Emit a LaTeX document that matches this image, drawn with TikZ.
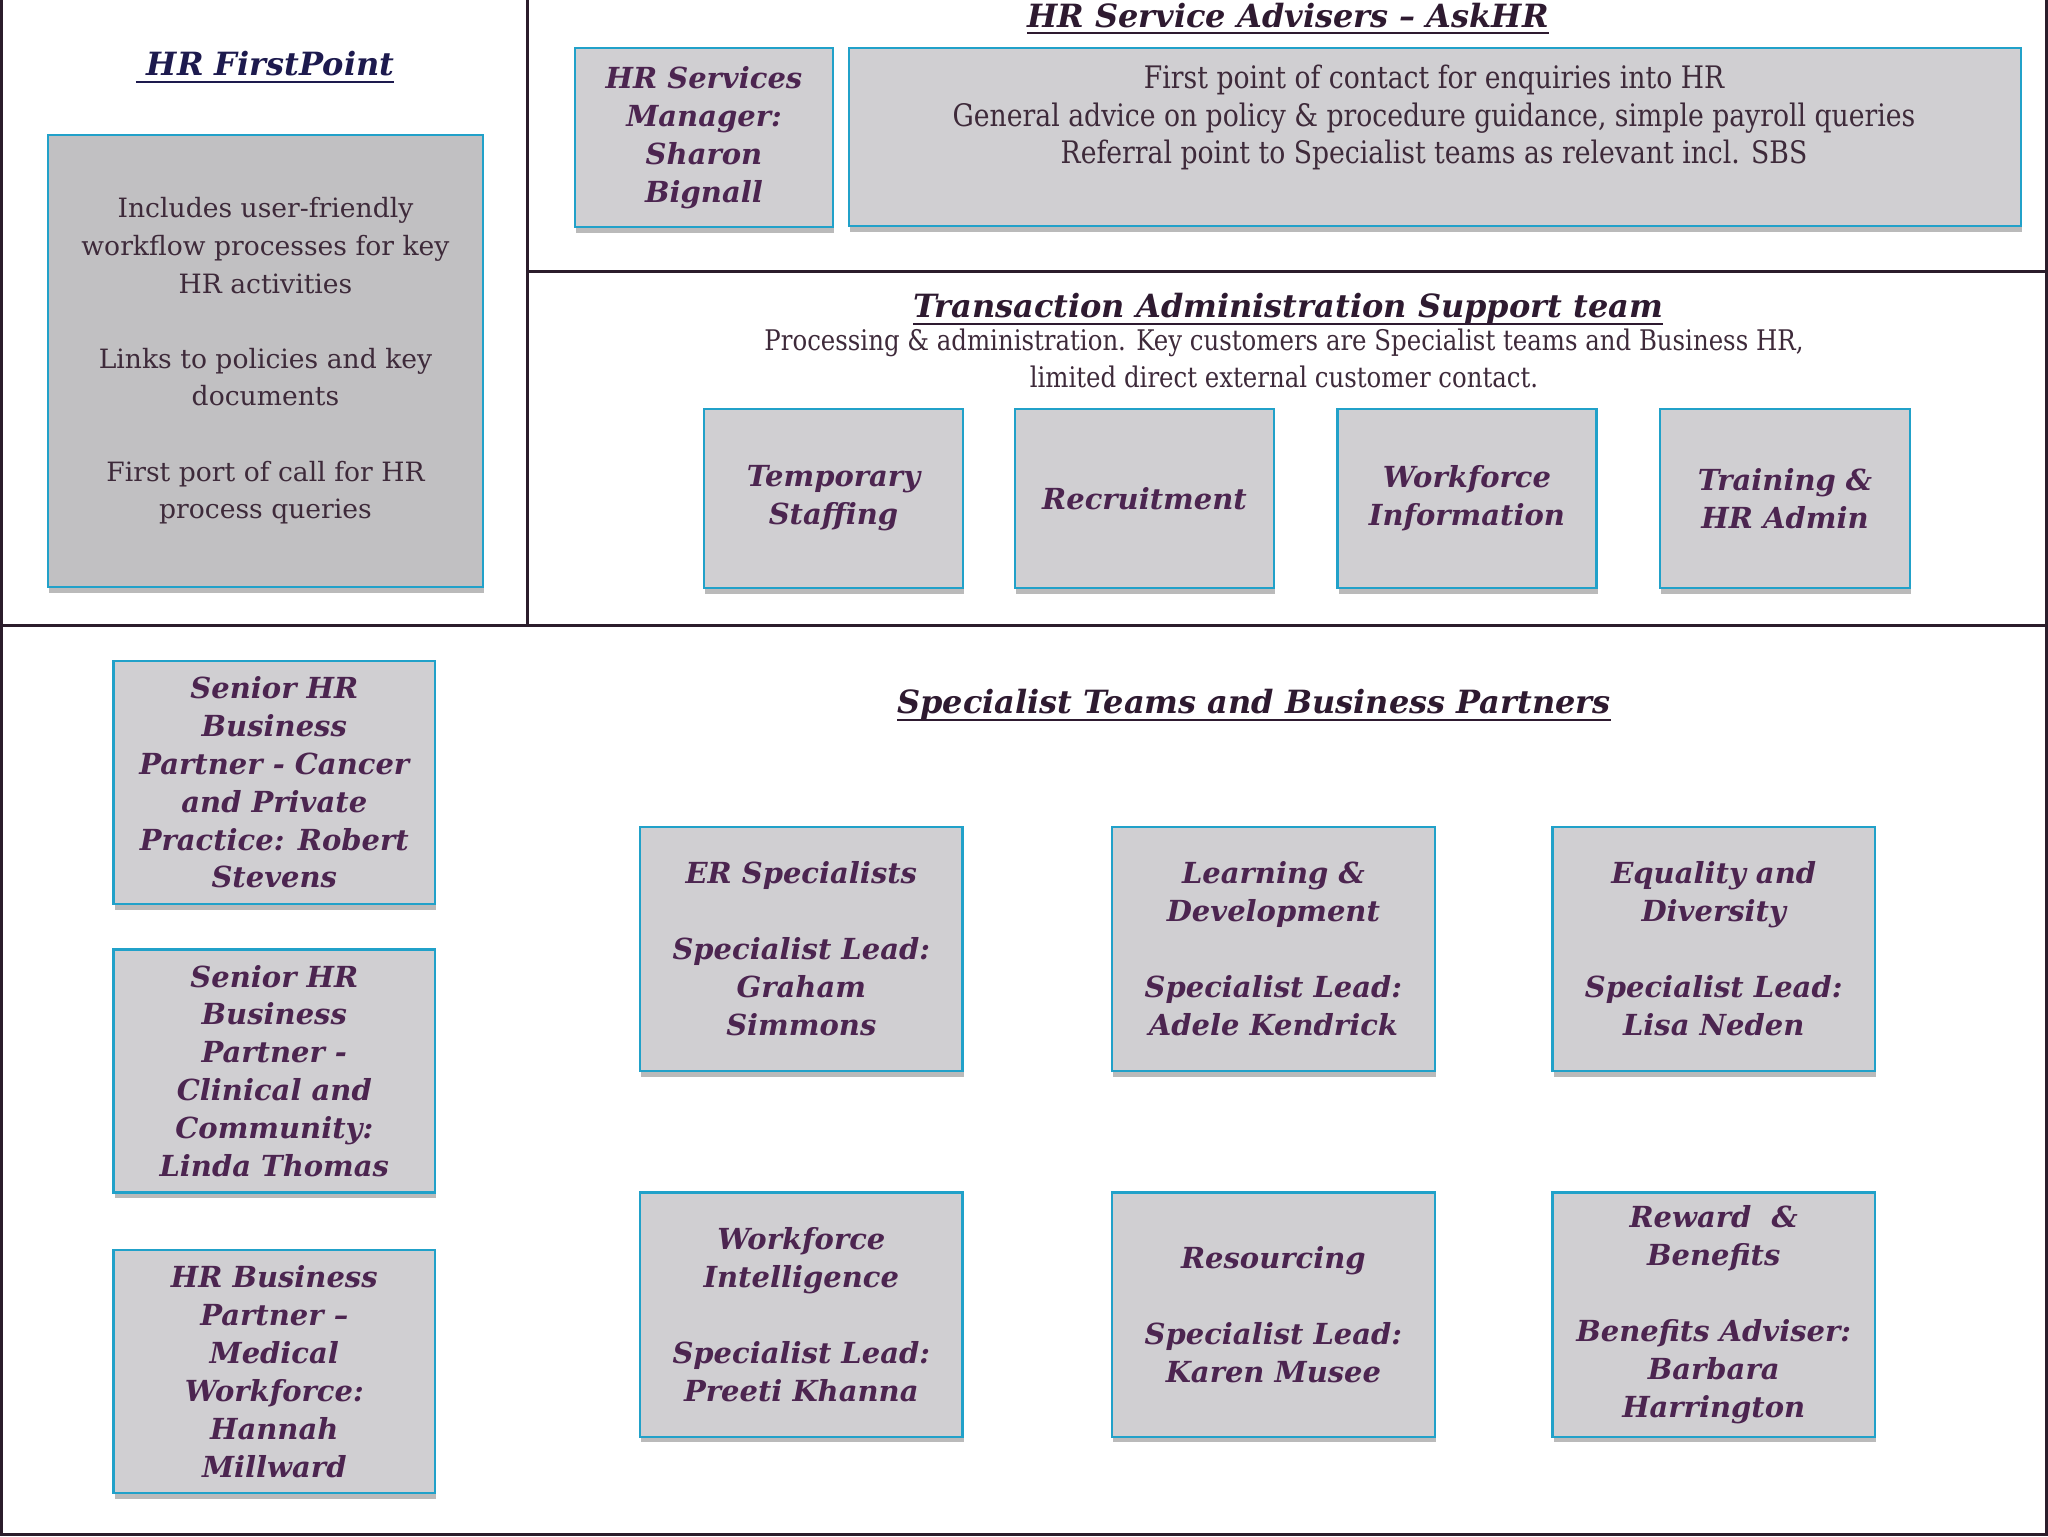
\documentclass[tikz,border=0pt]{standalone}
\usepackage{fontspec}
\setmainfont{DejaVu Serif}
\newfontfamily\condfont[FakeStretch=0.86]{DejaVu Serif}
\usetikzlibrary{shadows}
\definecolor{framec}{HTML}{2B1D2B}
\definecolor{boxblue}{HTML}{21A1C9}
\definecolor{boxgray}{HTML}{D0CFD2}
\definecolor{fpgray}{HTML}{C1C0C2}
\definecolor{boxtext}{HTML}{4C2550}
\definecolor{bodytext}{HTML}{3E2A3A}
\definecolor{navy}{HTML}{1D1A4E}
\definecolor{titlec}{HTML}{2E1A30}
\newcommand\bfitbox{\fontsize{14.5}{18.95}\selectfont\bfseries\itshape}
\newcommand\bfittitle{\fontsize{16}{19}\selectfont\bfseries\itshape}
\newcommand\ul[1]{\begingroup\setbox0\hbox{#1}\leavevmode\rlap{\raisebox{-3.4pt}{\rule{\wd0}{0.95pt}}}\box0\endgroup}
\begin{document}
\begin{tikzpicture}[x=0.5pt,y=-0.5pt,
  frameline/.style={draw=framec,line width=1.5pt},
  box/.style={draw=boxblue,line width=1.2pt,fill=boxgray,
    drop shadow={shadow xshift=0.6pt,shadow yshift=-2.8pt,opacity=0.45,fill=black!60},
    align=center,text=boxtext,font=\bfitbox,inner sep=0pt},
  fpbox/.style={box,fill=fpgray,text=bodytext,font=\fontsize{13.3}{18.8}\selectfont},
  title/.style={font=\bfittitle,text=titlec,inner sep=0pt},
  sub/.style={font=\condfont\fontsize{14.2}{17}\selectfont,text=bodytext,inner sep=0pt}
]
\useasboundingbox (0,0) rectangle (2048,1536);
% frame
\coordinate (tl) at (1.5,0);
\coordinate (bl) at (1.5,1534);
\coordinate (tr) at (2046,0);
\coordinate (br) at (2046,1534);
\coordinate (vt) at (527.7,0);
\coordinate (vb) at (527.7,625.6);
\coordinate (ml) at (1.5,625.6);
\coordinate (mr) at (2046,625.6);
\coordinate (ul) at (527.7,271.7);
\coordinate (ur) at (2046,271.7);
\draw[frameline] (tl) -- (bl) -- (br) -- (tr);
\draw[frameline] (vt) -- (vb);
\draw[frameline] (ml) -- (mr);
\draw[frameline] (ul) -- (ur);

% HR FirstPoint
\node[title,text=navy] (fptitle) at (265,67) {\ul{\ HR FirstPoint}};
\node[fpbox,minimum width=217.5pt,minimum height=226pt] (fp) at (265.5,361)
  {Includes user-friendly\\workflow processes for key\\HR activities\\[18.8pt]
   Links to policies and key\\documents\\[18.8pt]
   First port of call for HR\\process queries};

% AskHR
\node[title] (asktitle) at (1288,18.5) {\ul{HR Service Advisers -- AskHR}};
\node[box,minimum width=129pt,minimum height=89.5pt] (mgr) at (704,137.5)
  {HR Services\\Manager:\\Sharon\\Bignall};
\node[box,minimum width=586pt,minimum height=89pt] (ask) at (1435,137) {};
\node[sub,align=center,font=\condfont\fontsize{15.5}{18.95}\selectfont] (asktext) at (1434,117.5)
  {First point of contact for enquiries into HR\\
   General advice on policy \& procedure guidance, simple payroll queries\\
   Referral point to Specialist teams as relevant incl. SBS};

% Transaction
\node[title] (tastitle) at (1288,309) {\ul{Transaction Administration Support team}};
\node[sub] (tas1) at (1284,343) {Processing \& administration. Key customers are Specialist teams and Business HR,};
\node[sub] (tas2) at (1284,377) {limited direct external customer contact.};
\node[box,minimum width=129.5pt,minimum height=89.5pt] (temp) at (833.5,498.5) {Temporary\\Staffing};
\node[box,minimum width=129.5pt,minimum height=89.5pt] (recr) at (1144.5,498.5) {Recruitment};
\node[box,minimum width=129.5pt,minimum height=89.5pt] (wfi) at (1467,498.5) {Workforce\\Information};
\node[box,minimum width=124.75pt,minimum height=89.5pt] (train) at (1785,498.5) {Training \&\\HR Admin};

% Specialist
\node[title] (spectitle) at (1254,705) {\ul{Specialist Teams and Business Partners}};
\node[box,minimum width=160.7pt,minimum height=121.5pt] (bp1) at (274.3,782.4)
  {Senior HR\\Business\\Partner - Cancer\\and Private\\Practice: Robert\\Stevens};
\node[box,minimum width=160.7pt,minimum height=121.5pt] (bp2) at (274.3,1071)
  {Senior HR\\Business\\Partner -\\Clinical and\\Community:\\Linda Thomas};
\node[box,minimum width=160.7pt,minimum height=121.5pt] (bp3) at (274.3,1371.5)
  {HR Business\\Partner --\\Medical\\Workforce:\\Hannah\\Millward};

\node[box,minimum width=161.3pt,minimum height=122.2pt] (er) at (801.3,948.9)
  {ER Specialists\\[18.95pt]Specialist Lead:\\Graham\\Simmons};
\node[box,minimum width=161.3pt,minimum height=122.2pt] (ld) at (1273.4,948.9)
  {Learning \&\\Development\\[18.95pt]Specialist Lead:\\Adele Kendrick};
\node[box,minimum width=161.3pt,minimum height=122.2pt] (ed) at (1713.7,948.9)
  {Equality and\\Diversity\\[18.95pt]Specialist Lead:\\Lisa Neden};
\node[box,minimum width=161.3pt,minimum height=122.2pt] (wi) at (801.3,1314.6)
  {Workforce\\Intelligence\\[18.95pt]Specialist Lead:\\Preeti Khanna};
\node[box,minimum width=161.3pt,minimum height=122.2pt] (res) at (1273.4,1314.6)
  {Resourcing\\[18.95pt]Specialist Lead:\\Karen Musee};
\node[box,minimum width=161.3pt,minimum height=122.2pt] (rb) at (1713.7,1314.6)
  {Reward \ \&\\Benefits\\[18.95pt]Benefits Adviser:\\Barbara\\Harrington};
\end{tikzpicture}
\end{document}
